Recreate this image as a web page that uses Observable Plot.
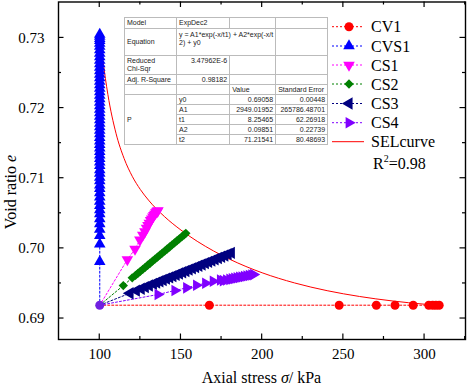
<!DOCTYPE html>
<html><head><meta charset="utf-8">
<script src="https://cdn.jsdelivr.net/npm/d3@7"></script>
<script src="https://cdn.jsdelivr.net/npm/@observablehq/plot@0.6"></script>
<style>
body{margin:0;background:#fff;}
#wrap{position:relative;width:474px;height:387px;overflow:hidden;}
#tbl{position:absolute;left:124px;top:17px;border-collapse:collapse;table-layout:fixed;background:#fff;
  font-family:"Liberation Sans",Arial,sans-serif;font-size:7px;color:#222;border:1px solid #555;}
#tbl td{border:1px solid #bbb;padding:0 2px;line-height:8px;vertical-align:top;overflow:hidden;white-space:nowrap;}
#tbl td.r{text-align:right;}
#tbl td.m{vertical-align:middle;}
</style></head><body><div id="wrap"></div>
<script>
// ---------- data ----------
const xTicks = [100, 150, 200, 250, 300];
const xMinor = [125, 175, 225, 275, 325];
const yTicks = [0.69, 0.70, 0.71, 0.72, 0.73];
const yMinor = [0.695, 0.705, 0.715, 0.725];

const cv1X = [100, 167.5, 247.4, 270.3, 281.8, 293.0, 302.6, 305.0, 307.0, 309.0];
const cv1Y = [0.6919, 0.6919, 0.6919, 0.6919, 0.6919, 0.6919, 0.6919, 0.6919, 0.6919, 0.6919];

const cvs1Y = [0.6919, 0.6981, 0.7006, 0.7018, 0.7027, 0.7035, 0.7042, 0.7049, 0.7055, 0.7061, 0.7067, 0.7073,
  0.7079, 0.7085, 0.7090, 0.7096, 0.7101, 0.7107, 0.7112, 0.7118, 0.7123, 0.7128, 0.7133, 0.7138, 0.7143,
  0.7148, 0.7153, 0.7158, 0.7163, 0.7168, 0.7173, 0.7178, 0.7183, 0.7188, 0.7193, 0.7198, 0.7203, 0.7208,
  0.7213, 0.7218, 0.7223, 0.7228, 0.7233, 0.7238, 0.7243, 0.7248, 0.7253, 0.7258, 0.7263, 0.7268, 0.7273,
  0.7278, 0.7283, 0.7288, 0.7292, 0.7296, 0.7299, 0.7302, 0.7305];
const cvs1X = cvs1Y.map(() => 100);

const cs1X = [100, 117.0, 121.7, 124.7, 126.5, 127.8, 128.8, 129.7, 130.5, 131.3, 132.0, 132.7, 133.3, 133.9, 134.5, 135.0, 135.5, 135.8];
const cs1Y = [0.6919, 0.6984, 0.6999, 0.7012, 0.7019, 0.7024, 0.7029, 0.7033, 0.7036, 0.7040, 0.7042, 0.7045, 0.7047, 0.7049, 0.7051, 0.7052, 0.7053, 0.7054];

const cs2X = [100, 114.5, 120.0, 122, 123.5, 125, 126.5, 128, 129.5, 131, 132.5, 134, 135.5, 137, 138.5, 140, 141.5, 143, 144.5, 146, 147.5, 149, 150.5, 152, 153];
const cs2Y = [0.6919, 0.6947, 0.6958, 0.69615, 0.69644, 0.69673, 0.69701, 0.69730, 0.69759, 0.69788, 0.69817, 0.69846,
  0.69875, 0.69904, 0.69933, 0.69962, 0.69991, 0.70020, 0.70049, 0.70078, 0.70107, 0.70136, 0.70165, 0.70194, 0.70214];

const cs3X = [100, 118.6, 122.5, 125.5, 128, 130.5, 133, 135, 137, 139, 141, 143, 145, 147, 149, 151, 153, 155, 157, 159, 161, 163, 165, 167, 169, 171, 173, 175, 177, 179, 181];
const cs3Y = [0.6919, 0.69361, 0.69397, 0.69425, 0.69448, 0.69471, 0.69494, 0.69512, 0.69531, 0.69549, 0.69568, 0.69586,
  0.69604, 0.69623, 0.69641, 0.69660, 0.69678, 0.69697, 0.69715, 0.69733, 0.69752, 0.69770, 0.69789, 0.69807,
  0.69825, 0.69844, 0.69862, 0.69881, 0.69899, 0.69918, 0.69936];

const cs4X = [100, 135.8, 146.2, 153.4, 159.5, 165.1, 169.8, 174.2, 176, 178, 180, 181.5, 183, 184.5, 186, 187.5, 189, 190.5, 192, 193.5, 194.7];
const cs4Y = [0.6919, 0.69342, 0.69399, 0.69437, 0.69474, 0.69503, 0.69531, 0.69550, 0.69540, 0.69549, 0.69558, 0.69565,
  0.69572, 0.69579, 0.69586, 0.69593, 0.69599, 0.69606, 0.69613, 0.69620, 0.69626];

const selX = [100, 102, 105, 110, 115, 120, 125, 130, 140, 150, 160, 170, 180, 190, 200, 220, 240, 260, 280, 300, 310];
const selY = [0.73093, 0.72678, 0.72195, 0.71641, 0.71281, 0.71028, 0.70839, 0.70688, 0.70450, 0.70261, 0.70101,
  0.69964, 0.69845, 0.69742, 0.69652, 0.69507, 0.69397, 0.69314, 0.69251, 0.69204, 0.69185];

const seriesNames = ["CV1", "CVS1", "CS1", "CS2", "CS3", "CS4"];
const seriesColors = ["#ff0000", "#0000ff", "#ff00ff", "#008000", "#000080", "#8000ff"];
const seriesSymbols = ["circle", "up", "down", "diamond", "left", "right"];
const fitName = "SELcurve";
const fitR2 = "0.98";

const tableRows = [
  ["y0", "0.69058", "0.00448"],
  ["A1", "2949.01952", "265786.48701"],
  ["t1", "8.25465", "62.26918"],
  ["A2", "0.09851", "0.22739"],
  ["t2", "71.21541", "80.48693"]
];

// ---------- build ----------
const zip = (xs, ys) => xs.map((x, i) => ({x, y: ys[i]}));
const seriesData = [zip(cv1X, cv1Y), zip(cvs1X, cvs1Y), zip(cs1X, cs1Y), zip(cs2X, cs2Y), zip(cs3X, cs3Y), zip(cs4X, cs4Y)];
const selData = zip(selX, selY);

function tri(angleDeg) {
  return {draw(ctx, size) {
    const a = Math.sqrt(4 * size / Math.sqrt(3));
    const R = a / Math.sqrt(3);
    for (let k = 0; k < 3; k++) {
      const t = (angleDeg + k * 120) * Math.PI / 180;
      const px = R * Math.cos(t), py = R * Math.sin(t);
      if (k === 0) ctx.moveTo(px, py); else ctx.lineTo(px, py);
    }
    ctx.closePath();
  }};
}
const symbolMap = {
  circle: d3.symbolCircle, up: tri(-90), down: tri(90), left: tri(180), right: tri(0), diamond: d3.symbolDiamond2
};
const symbolR = {circle: 4.5, up: 4.3, down: 4.3, diamond: 4.2, left: 4.6, right: 4.3};

const marks = [];
marks.push(Plot.line(selData, {x: "x", y: "y", stroke: "#ff0000", strokeWidth: 1, curve: "monotone-x"}));
seriesData.forEach((d, i) => {
  marks.push(Plot.line(d, {x: "x", y: "y", stroke: seriesColors[i], strokeWidth: 1, strokeDasharray: "2,2"}));
});
const order = [0, 2, 3, 4, 5, 1];
order.forEach(i => {
  const d = seriesData[i].slice(1);
  marks.push(Plot.dot(d, {x: "x", y: "y", symbol: symbolMap[seriesSymbols[i]], r: symbolR[seriesSymbols[i]], fill: seriesColors[i], stroke: "none"}));
});
marks.push(Plot.dot(seriesData[5].slice(0, 1), {x: "x", y: "y", r: 4.5, fill: "#7020e0", stroke: "none"}));
marks.push(Plot.axisY(yTicks, {tickSize: 0, tickPadding: 14, tickFormat: d3.format(".2f"), label: null, fontSize: 15}));
marks.push(Plot.axisX(xTicks, {tickSize: 0, tickPadding: 9, label: null, fontSize: 15}));
marks.push(Plot.frame({stroke: "#000", strokeWidth: 1.4}));

const chart = Plot.plot({
  width: 474, height: 387,
  marginLeft: 58, marginRight: 9, marginTop: 1.5, marginBottom: 48,
  x: {domain: [74.6, 325.2]},
  y: {domain: [0.68701, 0.73512]},
  style: {fontFamily: "Liberation Serif, Times New Roman, serif", fontSize: "15px", color: "#000", background: "#fff"},
  marks
});
document.getElementById("wrap").appendChild(chart);

const sx = chart.scale("x"), sy = chart.scale("y");
const svg = d3.select(chart);
const L = 58, Rr = 465, T = 1.5, B = 339;
const tg = svg.append("g").attr("stroke", "#000").attr("stroke-width", 1.2);
const addX = (vals, len) => vals.forEach(v => {
  const px = sx.apply(v);
  if (px < L || px > Rr) return;
  tg.append("line").attr("x1", px).attr("x2", px).attr("y1", B).attr("y2", B - len);
  tg.append("line").attr("x1", px).attr("x2", px).attr("y1", T).attr("y2", T + len);
});
const addY = (vals, len) => vals.forEach(v => {
  const py = sy.apply(v);
  if (py < T || py > B) return;
  tg.append("line").attr("y1", py).attr("y2", py).attr("x1", L).attr("x2", L + len);
  tg.append("line").attr("y1", py).attr("y2", py).attr("x1", Rr).attr("x2", Rr - len);
});
addX(xTicks, 5.5); addX(xMinor, 3); addY(yTicks, 5.5); addY(yMinor, 3);

// axis titles
const serif = "Liberation Serif, Times New Roman, serif";
const xl = svg.append("text").attr("x", (L + Rr) / 2).attr("y", 383).attr("text-anchor", "middle")
  .attr("font-family", serif).attr("font-size", 16);
xl.append("tspan").text("Axial stress ");
xl.append("tspan").attr("font-style", "italic").text("σ");
xl.append("tspan").text("/ kPa");
const yl = svg.append("text").attr("transform", `translate(16,${192}) rotate(-90)`).attr("text-anchor", "middle")
  .attr("font-family", serif).attr("font-size", 16);
yl.append("tspan").text("Void ratio ");
yl.append("tspan").attr("font-style", "italic").text("e");

// legend
const lg = svg.append("g").attr("font-family", serif).attr("font-size", 16).attr("text-anchor", "start");
const legY = [26.7, 46, 65, 84, 103.5, 122.7];
seriesNames.forEach((n, i) => {
  const y = legY[i];
  lg.append("line").attr("x1", 332).attr("x2", 364).attr("y1", y).attr("y2", y)
    .attr("stroke", seriesColors[i]).attr("stroke-dasharray", "2,2");
  const r = symbolR[seriesSymbols[i]];
  lg.append("path").attr("transform", `translate(349,${y})`)
    .attr("d", d3.symbol(symbolMap[seriesSymbols[i]], Math.PI * r * r)())
    .attr("fill", seriesColors[i]);
  lg.append("text").attr("x", 371).attr("y", y + 5.5).text(n);
});
lg.append("line").attr("x1", 332).attr("x2", 364).attr("y1", 141.7).attr("y2", 141.7).attr("stroke", "#ff0000");
lg.append("text").attr("x", 371).attr("y", 147.2).text(fitName);
const r2 = lg.append("text").attr("x", 373).attr("y", 168.5);
r2.append("tspan").text("R");
r2.append("tspan").attr("font-size", 10).attr("dy", -7).text("2");
r2.append("tspan").attr("dy", 7).text("=" + fitR2);

// fit table
const tb = document.createElement("table");
tb.id = "tbl";
let html = `<colgroup><col style="width:52px"><col style="width:52px"><col style="width:45px"><col style="width:52px"></colgroup>`;
html += `<tr style="height:11px"><td class="m">Model</td><td class="m">ExpDec2</td><td></td><td></td></tr>`;
html += `<tr style="height:27px"><td class="m">Equation</td><td colspan="2" style="padding-top:2px">y = A1*exp(-x/t1) + A2*exp(-x/t<br>2) + y0</td><td></td></tr>`;
html += `<tr style="height:19px"><td style="padding-top:1px">Reduced<br>Chi-Sqr</td><td class="r" style="padding-top:1px">3.47962E-6</td><td></td><td></td></tr>`;
html += `<tr style="height:10px"><td class="m">Adj. R-Square</td><td class="r m">0.98182</td><td></td><td></td></tr>`;
html += `<tr style="height:10px"><td></td><td></td><td class="m">Value</td><td class="m">Standard Error</td></tr>`;
tableRows.forEach((r, i) => {
  html += `<tr style="height:10px">` + (i === 0 ? `<td rowspan="5" class="m">P</td>` : "") +
    `<td class="m">${r[0]}</td><td class="r m">${r[1]}</td><td class="r m">${r[2]}</td></tr>`;
});
tb.innerHTML = html;
document.getElementById("wrap").appendChild(tb);
</script>
</body></html>
